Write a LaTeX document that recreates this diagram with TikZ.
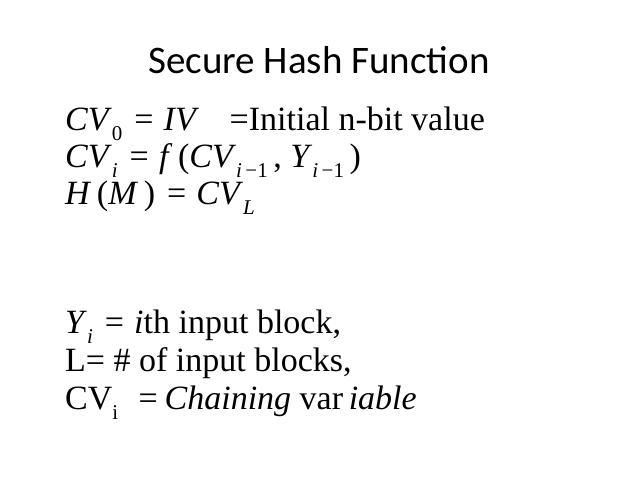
\documentclass[tikz,border=0pt]{standalone}
\usepackage{fontspec}
\setmainfont{Liberation Serif}
\newfontfamily\titlefont{Carlito}
\newcommand{\lowsub}[1]{\raisebox{-0.28em}{\fontsize{21}{22}\selectfont #1}}
\newcommand{\mi}[1]{\textit{#1}}
\newcommand{\eqs}{\hspace{0.35em}=\hspace{0.3em}}
\begin{document}
\begin{tikzpicture}[x=1pt,y=1pt,
  eq/.style={anchor=base west,inner sep=0pt,font=\fontsize{34}{38}\selectfont}]
\useasboundingbox[fill=white] (0,0) rectangle (638,479);
\node[font=\titlefont\fontsize{39}{44}\selectfont,anchor=base] (title) at (319,405) {Secure Hash Function};
\node[eq] (l1) at (65,348) {\mi{CV}\lowsub{0}\eqs\mi{IV}\hspace{0.9em}=Initial n-bit value};
\node[eq] (l2) at (65,311) {\mi{CV}\lowsub{\mi{i}}\eqs\mi{f}\,(\mi{CV}\lowsub{\mi{i}\,−1}\,, \mi{Y}\lowsub{\mi{i}\,−1}\,)};
\node[eq] (l3) at (65,274) {\mi{H}\,(\mi{M}\,)\eqs\mi{CV}\lowsub{\mi{L}}};
\node[eq] (l4) at (65,145) {\mi{Y}\lowsub{\mi{i}}\eqs\mi{i}th input block,};
\node[eq] (l5) at (65,107) {L= \# of input blocks,};
\node[eq] (l6) at (65,69) {CV\lowsub{i}\hspace{0.6em}=\hspace{0.2em}\mi{Chaining} var\,\mi{iable}};
\end{tikzpicture}
\end{document}
